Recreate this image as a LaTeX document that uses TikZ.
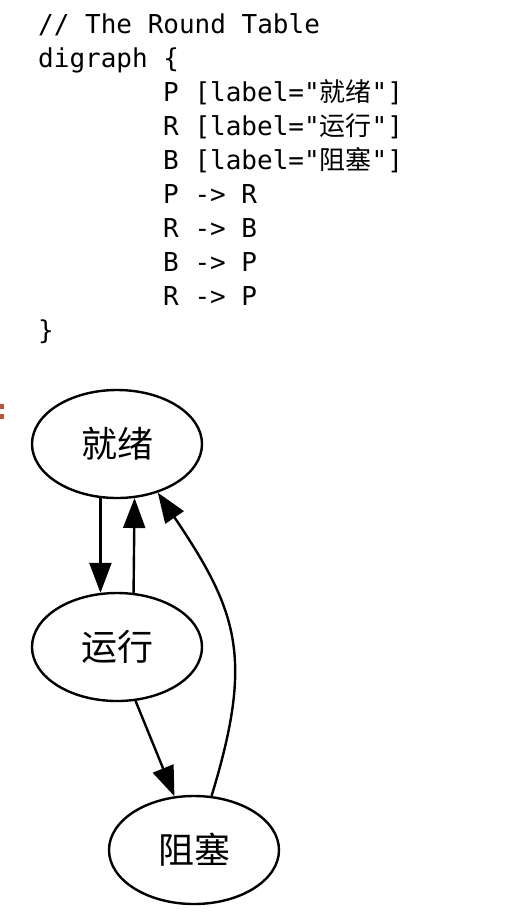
\documentclass[tikz,border=0pt]{standalone}
\usepackage{fontspec}
\setmonofont{DejaVu Sans Mono}
\newfontfamily\cjk{Noto Sans CJK SC}
\usetikzlibrary{arrows.meta,shapes.geometric}
\definecolor{markorange}{HTML}{B5583A}

\begin{document}
\begin{tikzpicture}[x=1pt, y=1pt,
    code/.style={anchor=base west, inner sep=0pt, font=\ttfamily\fontsize{26}{34}\selectfont},
    state/.style={ellipse, draw, line width=2.4pt, minimum width=170pt,
      minimum height=108pt, inner sep=0pt, font=\cjk\fontsize{36}{40}\selectfont},
    edge/.style={line width=2.4pt, -{Triangle[length=30pt,width=22pt]}}]
  \useasboundingbox (0,0) rectangle (526,-922);
  % source text
  \node[code] (l1) at (38,-33) {// The Round Table};
  \node[code] (l2) at (38,-67) {digraph \{};
  \node[code] (l3) at (163,-101) {P [label="{\cjk 就绪}"]};
  \node[code] (l4) at (163,-135) {R [label="{\cjk 运行}"]};
  \node[code] (l5) at (163,-169) {B [label="{\cjk 阻塞}"]};
  \node[code] (l6) at (163,-203) {P -> R};
  \node[code] (l7) at (163,-237) {R -> B};
  \node[code] (l8) at (163,-271) {B -> P};
  \node[code] (l9) at (163,-305) {R -> P};
  \node[code] (l10) at (38,-339) {\}};
  \fill[markorange] (0,-404) rectangle (4,-409);
  \fill[markorange] (0,-414) rectangle (4,-419);
  % graph
  \node[state] (P) at (117,-444) {就绪};
  \node[state] (R) at (117,-647) {运行};
  \node[state] (B) at (194,-850) {阻塞};
  \draw[edge] (P.-107) -- (R.107);
  \draw[edge] (R.73) -- (P.-72);
  \draw[edge] (R.-71) -- (B.110);
  \draw[edge] (B.72) to[out=73, in=-56, looseness=1.2] (P.-50);
\end{tikzpicture}
\end{document}
